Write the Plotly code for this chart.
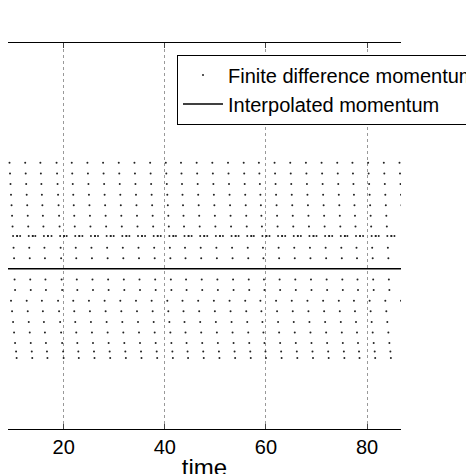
import plotly.graph_objects as go

# momentum samples, drawn as stripes of dots
stripe_t = [9.3, 12.4, 15.4, 18.6, 21.6, 24.7, 27.8, 30.9, 34.0, 37.1, 40.2, 43.2,
            46.3, 49.4, 52.5, 55.6, 58.6, 61.7, 64.8, 67.9, 71.0, 74.1, 77.1, 80.2,
            83.3, 86.4]
stripe_dt = [0.0, 0.1, 0.2, 0.3, 0.4, 0.5, 0.6, 0.7, 0.8, 0.9, 1.0, 1.1,
             0.3, 0.5, 0.7, 0.9, 1.1, 1.3, 1.4, 1.5]
stripe_p = [1.0, 0.9, 0.8, 0.7, 0.6, 0.5, 0.4, 0.31, 0.2, 0.1,
            -0.1, -0.2, -0.3, -0.4, -0.5, -0.6, -0.7, -0.78, -0.84, 0.31]
row_shift = [-1.0, 1.5]
line_t = [0, 100]
line_p = [0, 0]

fd_t, fd_p = [], []
for t in stripe_t:
    for dt, p in zip(stripe_dt, stripe_p):
        fd_t.append(t + dt)
        fd_p.append(p)
    for s in row_shift:
        fd_t.append(t + s)
        fd_p.append(0.31)

fig = go.Figure()
fig.add_trace(go.Scatter(x=fd_t, y=fd_p, mode="markers", name="Finite difference momentum",
                         marker=dict(color="#222", size=2)))
fig.add_trace(go.Scatter(x=line_t, y=line_p, mode="lines", name="Interpolated momentum",
                         line=dict(color="black", width=1.5)))

fig.update_layout(
    width=474, height=474,
    margin=dict(l=0, r=0, t=35, b=53, pad=0),
    paper_bgcolor="white", plot_bgcolor="white",
    font=dict(family="Liberation Sans, Arial", size=20, color="black"),
    legend=dict(x=0.43, y=0.97, xanchor="left", yanchor="top",
                bordercolor="black", borderwidth=1, bgcolor="white",
                font=dict(size=20), itemwidth=40, tracegroupgap=0),
    showlegend=True,
)
fig.update_xaxes(range=[9, 86.7], tickvals=[20, 40, 60, 80], ticks="inside", ticklen=5,
                 showline=True, mirror="ticks", linecolor="black", linewidth=1,
                 showgrid=True, gridcolor="#999", griddash="dot", gridwidth=1,
                 zeroline=False, automargin=False, title=dict(text="time", standoff=2))
fig.update_yaxes(range=[-1.51, 2.13], showticklabels=False, ticks="",
                 showline=True, linecolor="black", linewidth=1,
                 showgrid=False, zeroline=False, automargin=False)

fig.write_html("out.html")
